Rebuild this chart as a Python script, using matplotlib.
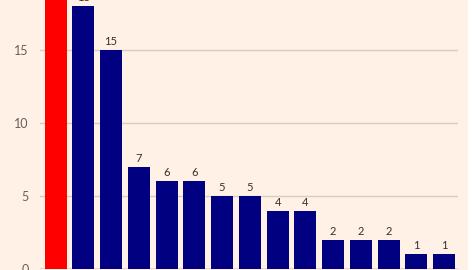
import matplotlib.pyplot as plt
from matplotlib.patches import Rectangle

# valores de las barras (la primera, en rojo, sale del recorte)
categories = list(range(15))
values = [24, 18, 15, 7, 6, 6, 5, 5, 4, 4, 2, 2, 2, 1, 1]
colors = ['#ff0000'] + ['#000080'] * 14
yticks = [0, 5, 10, 15]

bg = '#fff1e5'
plt.rcParams['font.family'] = ['Lato', 'DejaVu Sans']

fig = plt.figure(figsize=(4.76, 2.70), dpi=100, facecolor='white')
fig.patches.append(Rectangle((0, 0), 468 / 476, 1, transform=fig.transFigure,
                             facecolor=bg, edgecolor='none', zorder=-10))

ax = fig.add_axes([40 / 476, 1 / 270, 418 / 476, 269 / 270])
ax.set_facecolor(bg)
ax.patch.set_alpha(0)

bars = ax.bar(categories, values, width=0.79, color=colors, zorder=3)
for b, v in zip(bars, values):
    ax.text(b.get_x() + b.get_width() / 2, v + 0.2, str(v), ha='center', va='bottom',
            fontsize=8, color='#33302e', zorder=4)

ax.set_xlim(-0.56, 14.5)
ax.set_ylim(0, 18.4)
ax.set_yticks(yticks)
ax.set_xticks([])
ax.grid(axis='y', color='#d6ccc2', linewidth=1, zorder=0)
ax.axhline(0, color='#a9a09a', linewidth=1, zorder=2)
ax.tick_params(axis='y', length=0, pad=8, labelsize=9, labelcolor='#66605c')
for s in ax.spines.values():
    s.set_visible(False)

fig.savefig('out.png', dpi=100, facecolor='white')
